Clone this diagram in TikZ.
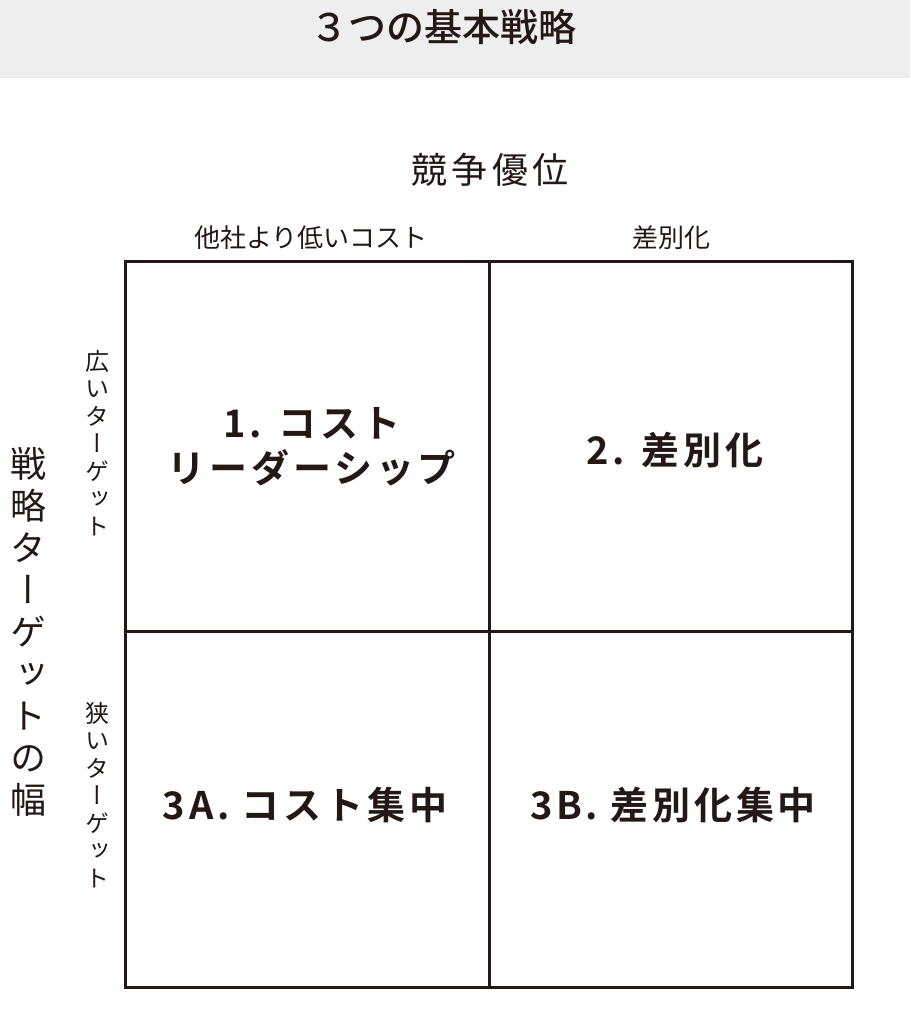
\documentclass[tikz,border=0pt]{standalone}
\usepackage{fontspec}
\newfontfamily\jp[BoldFont={Noto Sans CJK JP Bold}]{Noto Sans CJK JP}
\newfontfamily\jpmid{Noto Sans CJK JP Medium}
\newfontfamily\jpwide[LetterSpace=10]{Noto Sans CJK JP Bold}
\newfontfamily\jpspaced[LetterSpace=12]{Noto Sans CJK JP}
\newfontfamily\jpv[RawFeature=+vert]{Noto Sans CJK JP}
\definecolor{ink}{HTML}{231815}
\definecolor{band}{HTML}{EEEEEE}

\begin{document}
\begin{tikzpicture}[x=1pt,y=-1pt,
  cell/.style={font=\jpwide\fontsize{38}{45}\selectfont, text=ink, align=center},
  head/.style={font=\jp\fontsize{26}{30}\selectfont, text=ink},
  side/.style={font=\jpv\fontsize{24}{27.5}\selectfont, text=ink, align=center, inner sep=0pt},
  grid/.style={draw=ink, line width=3pt}]

\useasboundingbox (0,0) rectangle (910,1017);

% title band
\fill[band] (0,0) rectangle (910,78);
\node[text=ink, font=\jpmid\fontsize{38}{40}\selectfont] (title) at (443,27) {３つの基本戦略};

% column heading
\node[text=ink, font=\jpspaced\fontsize{36}{40}\selectfont] (advantage) at (490,170) {競争優位};
\node[head] (lowcost) at (311,238) {他社より低いコスト};
\node[head] (differ) at (671,238) {差別化};

% row heading
\node[text=ink, font=\jpv\fontsize{36}{42}\selectfont, align=center, inner sep=0pt] (scope) at (28,632)
  {戦\\略\\タ\\ー\\ゲ\\ッ\\ト\\の\\幅};
\node[side] (broad) at (97,443) {広\\い\\タ\\ー\\ゲ\\ッ\\ト};
\node[side] (narrow) at (97,795) {狭\\い\\タ\\ー\\ゲ\\ッ\\ト};

% grid
\draw[grid] (125,261) rectangle (852,987);
\draw[grid] (489,261) -- (489,987);
\draw[grid] (125,631) -- (852,631);

% cells
\node[cell] (leader) at (312,447) {1. コスト\\リーダーシップ};
\node[cell] (diff) at (675,450) {2. 差別化};
\node[cell] (costfocus) at (305,805) {3A. コスト集中};
\node[cell] (difffocus) at (673,805) {3B. 差別化集中};

\end{tikzpicture}
\end{document}
